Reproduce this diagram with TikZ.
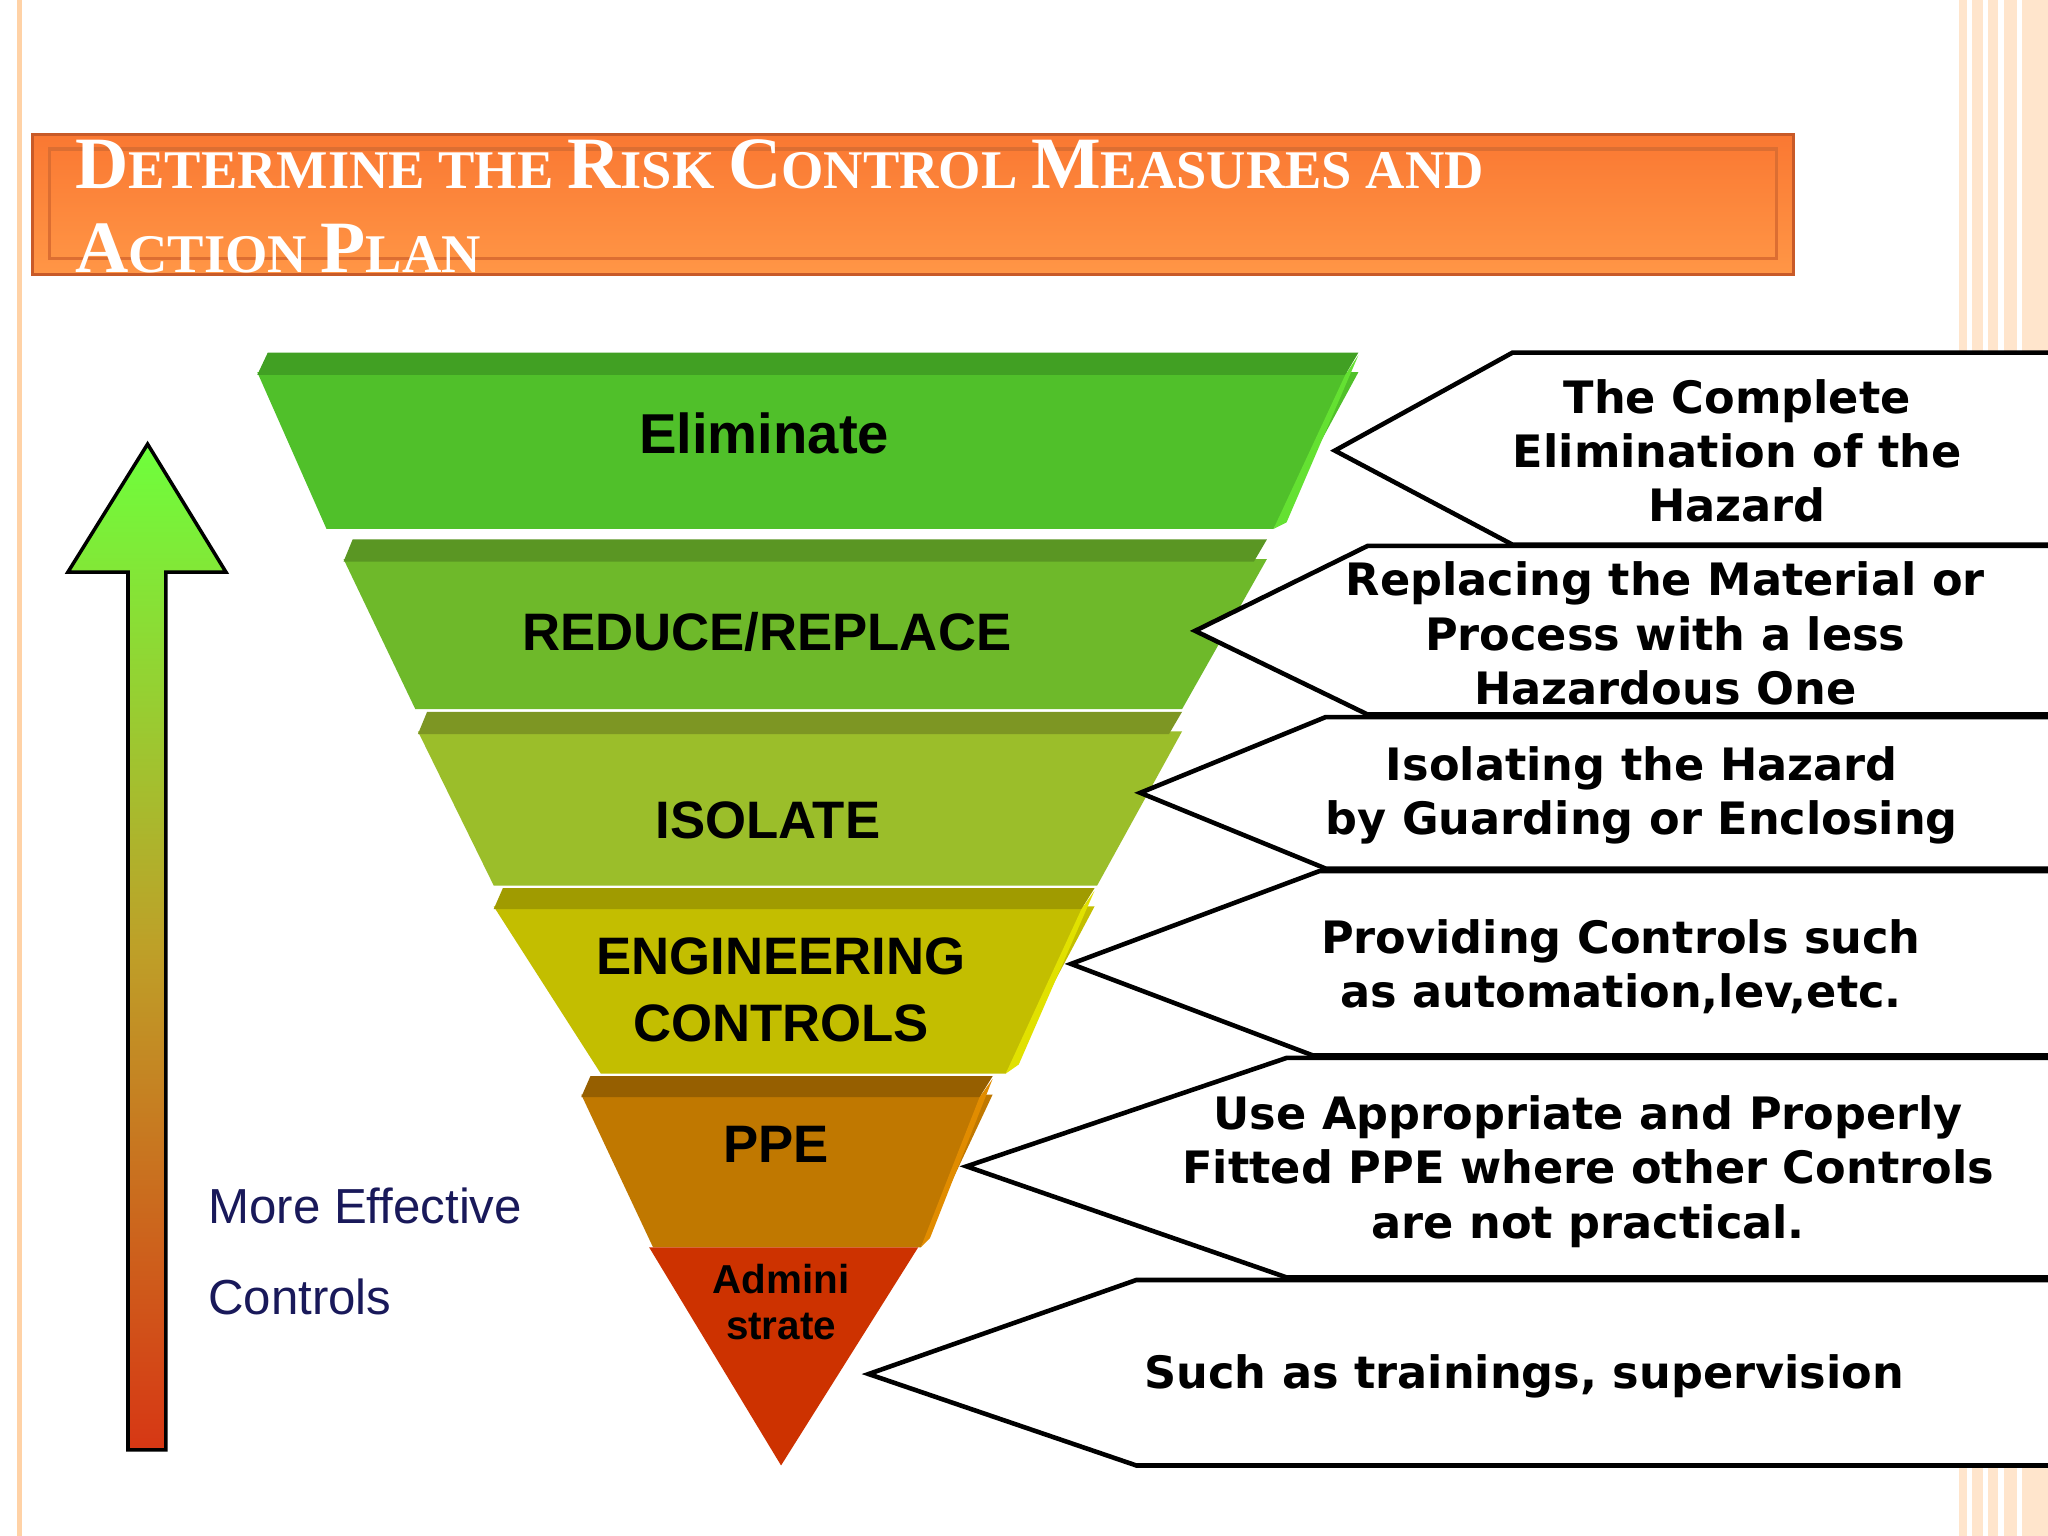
\documentclass[tikz,border=0pt]{standalone}
\usepackage{fontspec}
\setmainfont{Liberation Serif}
\newfontfamily\arial{Liberation Sans}
\newfontfamily\verd{DejaVu Sans}
\definecolor{tA}{RGB}{250,120,50}
\definecolor{tB}{RGB}{255,150,70}
\definecolor{tC}{RGB}{200,90,40}
\definecolor{tD}{RGB}{220,110,50}
\definecolor{aG}{RGB}{110,255,60}
\definecolor{aR}{RGB}{215,55,20}
\definecolor{aM}{RGB}{190,160,40}
\definecolor{navy}{RGB}{25,25,90}
\definecolor{g1}{RGB}{80,192,42}\definecolor{g1d}{RGB}{65,160,35}\definecolor{g1l}{RGB}{100,225,50}
\definecolor{g2}{RGB}{110,185,42}\definecolor{g2d}{RGB}{90,150,35}
\definecolor{g3}{RGB}{155,190,42}\definecolor{g3d}{RGB}{125,150,35}
\definecolor{g4}{RGB}{195,190,0}\definecolor{g4d}{RGB}{160,155,0}\definecolor{g4l}{RGB}{225,225,0}
\definecolor{g5}{RGB}{192,120,0}\definecolor{g5d}{RGB}{150,95,0}\definecolor{g5l}{RGB}{225,140,0}
\definecolor{g6}{RGB}{205,50,0}
\newcommand{\BC}[1]{{\fontsize{21}{24}\selectfont #1}}
\newcommand{\SC}[1]{{\fontsize{15.5}{24}\selectfont #1}}
\begin{document}
\begin{tikzpicture}[x=0.013061cm,y=-0.013061cm,
  lab/.style={font=\arial\bfseries\fontsize{15}{17}\selectfont,align=center,text=black},
  call/.style={draw=black,line width=1.3pt,fill=white},
  ctext/.style={font=\verd\bfseries\fontsize{12.7}{15.4}\selectfont,align=center,text=black},
  side/.style={font=\arial\fontsize{14}{16}\selectfont,text=navy,anchor=west}]
\useasboundingbox (0,0) rectangle (1568,1176);
\fill[white] (0,0) rectangle (1568,1176);
% side stripes
\fill[orange!20] (1500,0) rectangle (1568,1176);
\foreach \x in {1508,1520,1532,1546} \draw[white,line width=1.5pt] (\x,0) -- (\x,1176);
\draw[orange!35,line width=1.5pt] (15,0) -- (15,1176);
% title
\shade[top color=tA,bottom color=tB] (25,103) rectangle (1373,210);
\draw[tC,line width=1pt] (25,103) rectangle (1373,210);
\draw[tD,line width=1pt] (38,114) rectangle (1360,198);
\node[anchor=north west,text=white,font=\bfseries\fontsize{21}{24}\selectfont,inner sep=0,align=left] (title) at (57,106)
 {\BC{D}\SC{ETERMINE THE }\BC{R}\SC{ISK }\BC{C}\SC{ONTROL }\BC{M}\SC{EASURES AND}\\
  \BC{A}\SC{CTION }\BC{P}\SC{LAN}};
% arrow
\shade[top color=aG,bottom color=aR,middle color=aM]
 (113,340) -- (173,438) -- (127,438) -- (127,1110) -- (98,1110) -- (98,438) -- (52,438) -- cycle;
\draw[black,line width=1pt] (113,340) -- (173,438) -- (127,438) -- (127,1110) -- (98,1110) -- (98,438) -- (52,438) -- cycle;
\node[side] (me) at (150,923) {More Effective};
\node[side] (mc) at (150,993) {Controls};
% funnel layers
\fill[g1] (197,285) -- (1040,285) -- (975,405) -- (250,405) -- cycle;
\fill[g1d] (205,270) -- (1040,270) -- (1030,287) -- (197,287) -- cycle;
\fill[g1l] (1030,287) -- (1040,272) -- (985,400) -- (975,405) -- cycle;
\node[lab,font=\arial\bfseries\fontsize{16}{18}\selectfont] (l1) at (585,332) {Eliminate};
\fill[g2] (263,428) -- (970,428) -- (905,543) -- (318,543) -- cycle;
\fill[g2d] (270,413) -- (970,413) -- (960,430) -- (263,430) -- cycle;
\node[lab] (l2) at (587,484) {REDUCE/REPLACE};
\fill[g3] (320,560) -- (905,560) -- (840,678) -- (378,678) -- cycle;
\fill[g3d] (327,545) -- (905,545) -- (895,562) -- (320,562) -- cycle;
\node[lab] (l3) at (588,628) {ISOLATE};
\fill[g4] (378,694) -- (838,694) -- (770,822) -- (460,822) -- cycle;
\fill[g4d] (385,680) -- (838,680) -- (828,696) -- (378,696) -- cycle;
\fill[g4l] (828,696) -- (838,682) -- (780,815) -- (770,822) -- cycle;
\node[lab] (l4) at (598,758) {ENGINEERING\\[2pt]CONTROLS};
\fill[g5] (445,838) -- (760,838) -- (705,955) -- (500,955) -- cycle;
\fill[g5d] (452,824) -- (760,824) -- (750,840) -- (445,840) -- cycle;
\fill[g5l] (750,840) -- (760,826) -- (712,948) -- (705,955) -- cycle;
\node[lab] (l5) at (594,876) {PPE};
\fill[g6] (497,955) -- (703,955) -- (598,1122) -- cycle;
\node[lab,font=\arial\bfseries\fontsize{11.5}{13}\selectfont] (l6) at (598,997) {Admini\\strate};
% callouts
\draw[call] (1568,270) -- (1158,270) -- (1022,345) -- (1158,417) -- (1568,417);
\node[ctext] (c1) at (1330,345) {The Complete\\Elimination of the\\Hazard};
\draw[call] (1568,418) -- (1047,418) -- (915,483) -- (1047,547) -- (1568,547);
\node[ctext] (c2) at (1275,485) {Replacing the Material or\\Process with a less\\Hazardous One};
\draw[call] (1568,549) -- (1015,549) -- (873,607) -- (1015,665) -- (1568,665);
\node[ctext] (c3) at (1257,609) {Isolating the Hazard\\by Guarding or Enclosing};
\draw[call] (1568,667) -- (1010,667) -- (820,738) -- (1005,808) -- (1568,808);
\node[ctext] (c4) at (1241,740) {Providing Controls such\\as automation,lev,etc.};
\draw[call] (1568,810) -- (985,810) -- (740,893) -- (985,978) -- (1568,978);
\node[ctext] (c5) at (1216,897) {Use Appropriate and Properly\\Fitted PPE where other Controls\\are not practical.};
\draw[call] (1568,980) -- (870,980) -- (665,1052) -- (870,1122) -- (1568,1122);
\node[ctext] (c6) at (1167,1054) {Such as trainings, supervision};
\end{tikzpicture}
\end{document}
